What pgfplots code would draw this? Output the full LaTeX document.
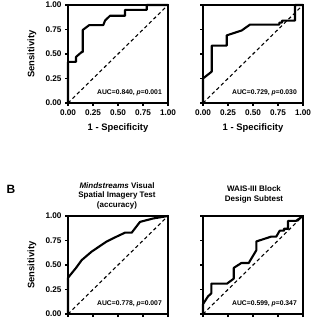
\documentclass[border=0pt]{standalone}
\usepackage{pgfplots}
\pgfplotsset{compat=1.18}
\usepackage{fontspec}
\setmainfont{Liberation Sans}

\pgfplotsset{
  rocpanel/.style={
    scale only axis, width=100pt, height=98pt,
    anchor=south west,
    xmin=0, xmax=1, ymin=0, ymax=1,
    xtick={0,0.25,0.5,0.75,1}, ytick={0,0.25,0.5,0.75,1},
    xtick pos=bottom, ytick pos=left, tick align=outside,
    major tick length=3pt,
    axis line style={line width=1.4pt},
    every tick/.style={black, line width=1.1pt},
    /pgf/number format/assume math mode=true,
    /pgf/number format/fixed,
    /pgf/number format/fixed zerofill,
    /pgf/number format/precision=2,
    tick label style={font=\bfseries\fontsize{8.2}{9}\selectfont},
    clip=false,
  },
  roc/.style={black, line width=2.1pt, line join=round},
  chance/.style={black, line width=1.1pt, dash pattern=on 3.5pt off 2.8pt},
}
\tikzset{auc/.style={anchor=east, font=\bfseries\fontsize{6.8}{8}\selectfont, inner sep=0pt}}

\begin{document}
\begin{tikzpicture}
\path[use as bounding box] (0pt,0pt) rectangle (320pt,320pt);
\clip (0pt,0pt) rectangle (320pt,320pt);

% ---- Panel A, left ----
\begin{axis}[rocpanel, at={(68pt,217pt)}]
  \addplot[chance] coordinates {(0,0) (1,1)};
  \addplot[roc] coordinates {
    (0,0) (0,0.42) (0.08,0.42) (0.08,0.47) (0.137,0.52) (0.147,0.52)
    (0.147,0.745) (0.213,0.795) (0.353,0.795) (0.37,0.84) (0.42,0.89)
    (0.57,0.89) (0.57,0.95) (0.787,0.95) (0.787,1) (1,1)};
  \node[auc] at (rel axis cs:0.94,0.10) {AUC=0.840, \textit{p}=0.001};
\end{axis}

% ---- Panel A, right ----
\begin{axis}[rocpanel, at={(203pt,217pt)}, yticklabel=\empty]
  \addplot[chance] coordinates {(0,0) (1,1)};
  \addplot[roc] coordinates {
    (0,0) (0,0.25) (0.087,0.32) (0.087,0.585) (0.237,0.585) (0.237,0.69)
    (0.387,0.74) (0.47,0.80) (0.763,0.80) (0.763,0.82) (0.79,0.82)
    (0.79,0.84) (0.92,0.84) (0.92,1) (1,1)};
  \node[auc] at (rel axis cs:0.94,0.10) {AUC=0.729, \textit{p}=0.030};
\end{axis}

% ---- Panel B, left ----
\begin{axis}[rocpanel, at={(68pt,6pt)}, xticklabel=\empty]
  \addplot[chance] coordinates {(0,0) (1,1)};
  \addplot[roc] coordinates {
    (0,0) (0,0.37) (0.08,0.47) (0.137,0.55) (0.237,0.637) (0.387,0.74)
    (0.487,0.79) (0.57,0.83) (0.637,0.83) (0.72,0.94) (0.853,0.975) (1,1)};
  \node[auc] at (rel axis cs:0.94,0.10) {AUC=0.778, \textit{p}=0.007};
\end{axis}

% ---- Panel B, right ----
\begin{axis}[rocpanel, at={(203pt,6pt)}, xticklabel=\empty, yticklabel=\empty]
  \addplot[chance] coordinates {(0,0) (1,1)};
  \addplot[roc] coordinates {
    (0,0) (0,0.10) (0.05,0.18) (0.083,0.21) (0.083,0.31) (0.24,0.31)
    (0.307,0.36) (0.307,0.47) (0.383,0.52) (0.457,0.52) (0.533,0.65)
    (0.533,0.74) (0.683,0.79) (0.733,0.79) (0.767,0.85) (0.81,0.85)
    (0.81,0.87) (0.85,0.87) (0.85,0.95) (0.93,0.95) (1,1)};
  \node[auc] at (rel axis cs:0.94,0.10) {AUC=0.599, \textit{p}=0.347};
\end{axis}

% ---- labels ----
\begin{scope}[every node/.style={font=\bfseries\fontsize{9.4}{11}\selectfont}]
  \node[rotate=90] at (32pt,266pt) {Sensitivity};
  \node[rotate=90] at (32pt,55pt) {Sensitivity};
  \node at (118pt,192pt) {1 - Specificity};
  \node at (253pt,192pt) {1 - Specificity};
\end{scope}
\node[font=\bfseries\fontsize{12}{14}\selectfont] at (11pt,131pt) {B};
\node[align=center, font=\bfseries\fontsize{8}{9.5}\selectfont] at (117pt,124.5pt)
  {\textit{Mindstreams} Visual\\Spatial Imagery Test\\(accuracy)};
\node[align=center, font=\bfseries\fontsize{8}{9.5}\selectfont] at (254pt,125.5pt)
  {WAIS-III Block\\Design Subtest};
\end{tikzpicture}
\end{document}
